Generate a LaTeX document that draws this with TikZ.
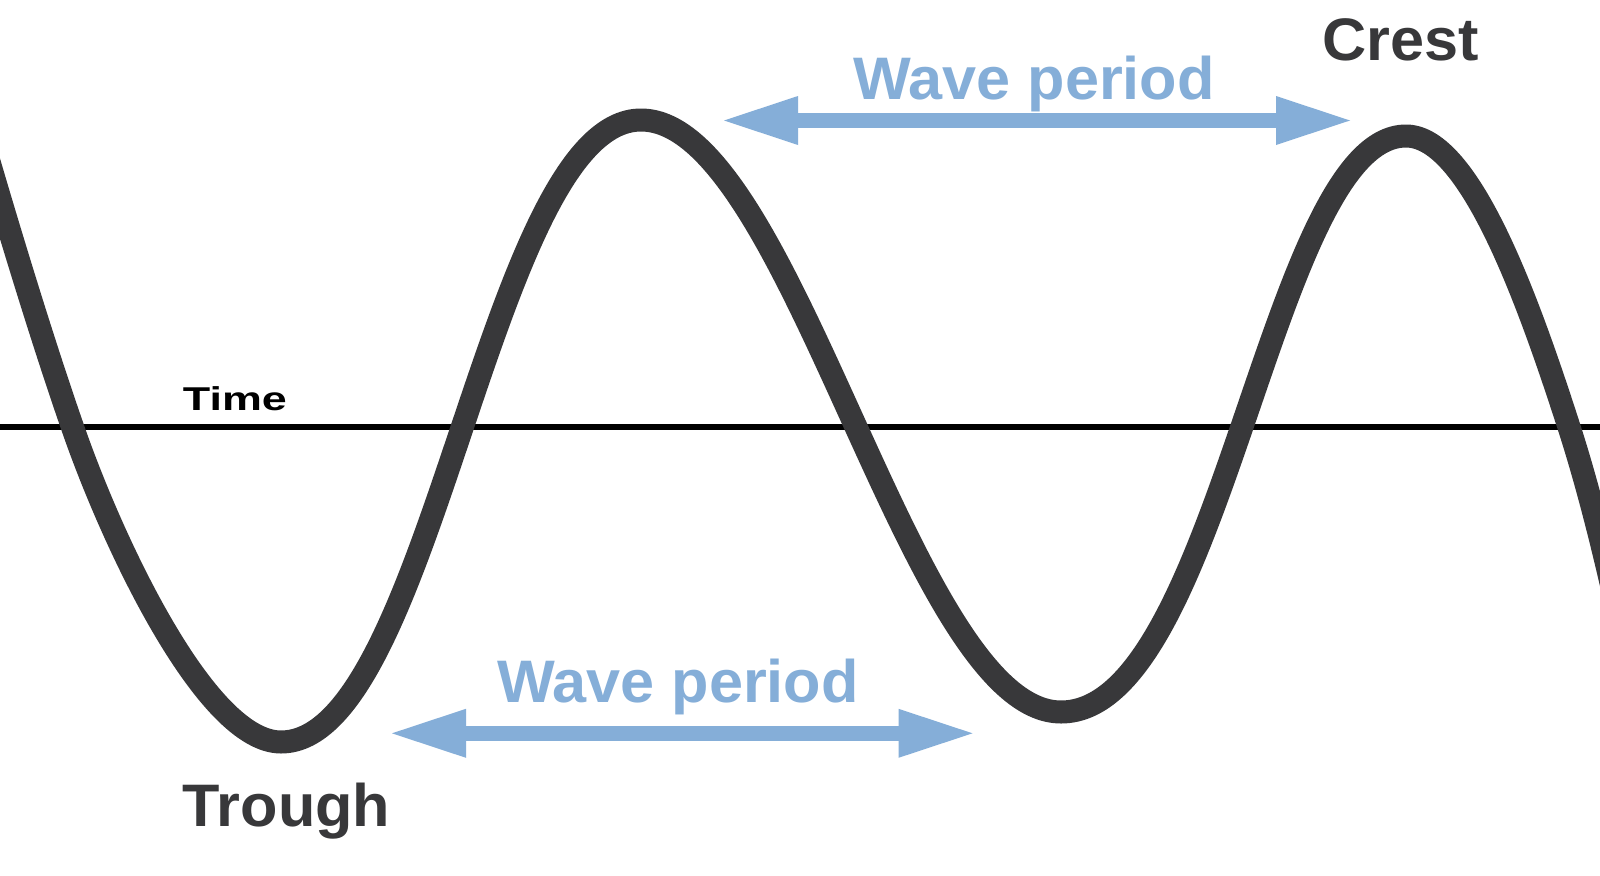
\documentclass[tikz,border=0pt]{standalone}
\usepackage{fontspec}
\setmainfont{Liberation Sans}
\usetikzlibrary{arrows.meta}
\definecolor{wavegray}{HTML}{38383A}
\definecolor{periodblue}{HTML}{85AED8}
\begin{document}
\begin{tikzpicture}[x=1pt,y=-1pt,
  wave/.style={line width=23pt, draw=wavegray, line cap=round, line join=round},
  axisline/.style={line width=6pt, draw=black},
  period/.style={line width=15.6pt, draw=periodblue,
    {Triangle[length=74pt,width=49pt,line width=0pt]}-{Triangle[length=74pt,width=49pt,line width=0pt]}},
  biglabel/.style={font=\fontsize{60}{60}\selectfont\bfseries, text=wavegray, inner sep=0pt, anchor=base west, xscale=1.02},
  periodlabel/.style={biglabel, text=periodblue},
  timelabel/.style={font=\fontsize{33}{33}\selectfont\bfseries, text=black, inner sep=0pt, anchor=base west, xscale=1.36}
]
\useasboundingbox (0,0) rectangle (1600,875);
\fill[white] (0,0) rectangle (1600,875);
\coordinate (axL) at (0,426.7);
\coordinate (axR) at (1600,426.7);
\draw[axisline] (axL) -- (axR);
\begin{scope}
\clip (0,0) rectangle (1600,875);
\draw[wave] (-30,97) -- (-8,172) .. controls (15,250) and (45,348) .. (72.5,427)
  .. controls (112.5,543) and (206,742) .. (281,742)
  .. controls (432,742) and (490,120) .. (641,120)
  .. controls (792,120) and (910,712) .. (1061,712)
  .. controls (1221,712) and (1271,136) .. (1406,136)
  .. controls (1470,136) and (1529,303) .. (1569,427)
  .. controls (1589,489) and (1608,565) .. (1628,660);
\end{scope}
\coordinate (p1L) at (724,120.5);
\coordinate (p1R) at (1350,120.5);
\draw[period] (p1L) -- (p1R);
\coordinate (p2L) at (392,733.3);
\coordinate (p2R) at (972.5,733.3);
\draw[period] (p2L) -- (p2R);
\node[periodlabel] (wp1) at (853,99) {Wave period};
\node[periodlabel] (wp2) at (497,702) {Wave period};
\node[biglabel] (crest) at (1322,61) {Crest};
\node[biglabel] (trough) at (182.7,826) {Trough};
\node[timelabel] (time) at (182.7,410) {Time};
\end{tikzpicture}
\end{document}
